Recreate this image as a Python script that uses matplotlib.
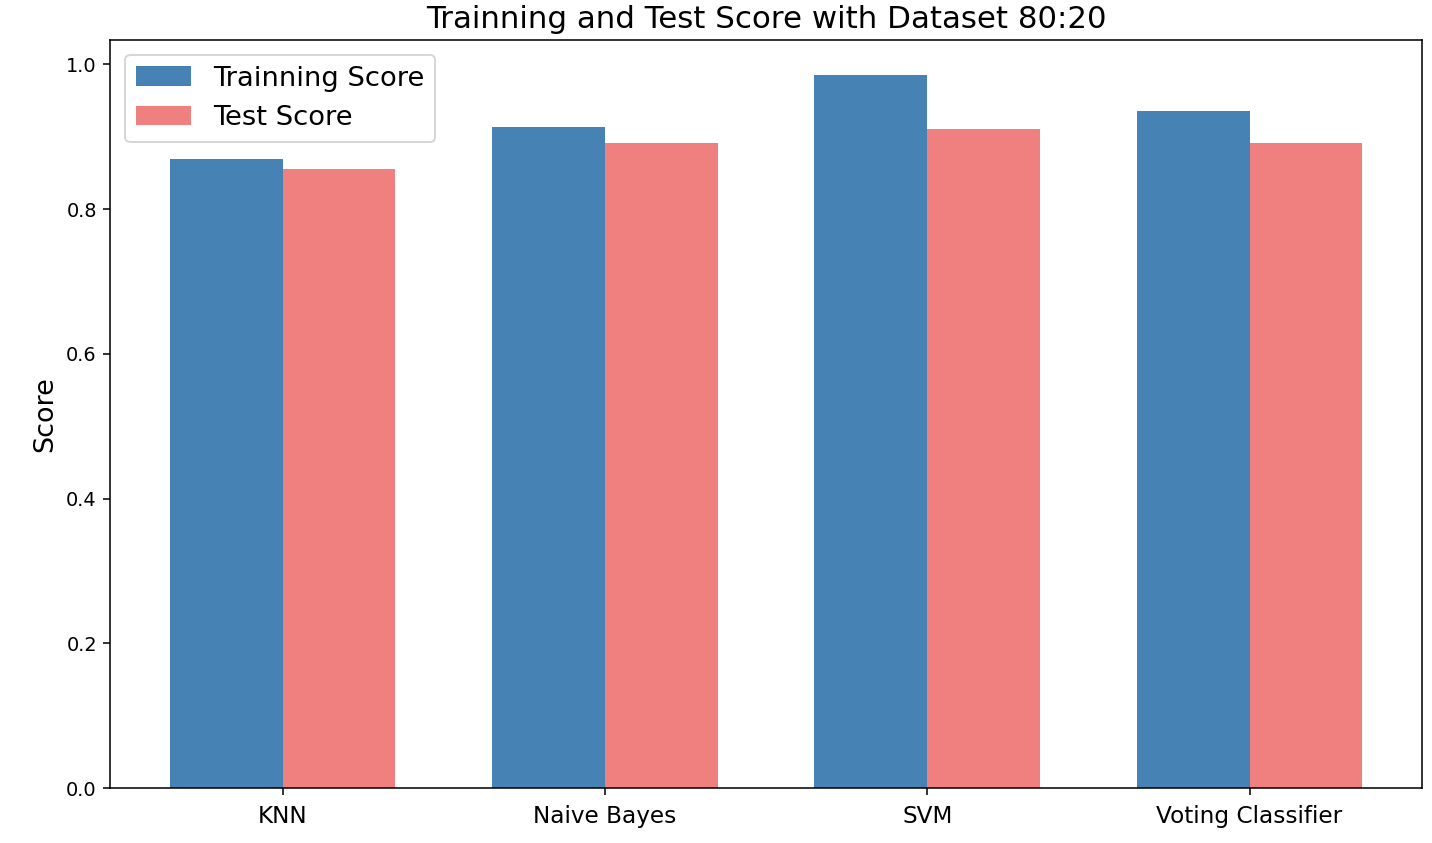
import numpy as np
import matplotlib
matplotlib.use("Agg")
import matplotlib.pyplot as plt

models = ["KNN", "Naive Bayes", "SVM", "Voting Classifier"]
train_score = [0.869, 0.914, 0.985, 0.936]
test_score = [0.855, 0.892, 0.911, 0.892]

dpi = 139
fig, ax = plt.subplots(figsize=(1432 / dpi, 843 / dpi), dpi=dpi)
plt.subplots_adjust(left=0.077, right=0.993, top=0.953, bottom=0.065)

x = np.arange(len(models))
w = 0.35
ax.bar(x - w / 2, train_score, w, color="steelblue", label="Trainning Score")
ax.bar(x + w / 2, test_score, w, color="lightcoral", label="Test Score")

ax.set_xticks(x)
ax.set_xticklabels(models, fontsize=12)
ax.tick_params(axis="x", pad=5)
ax.set_ylabel("Score", fontsize=14)
ax.set_title("Trainning and Test Score with Dataset 80:20", fontsize=16)
ax.legend(loc="upper left", fontsize=14.2, borderaxespad=0.55)

fig.savefig("out.png", dpi=dpi)
